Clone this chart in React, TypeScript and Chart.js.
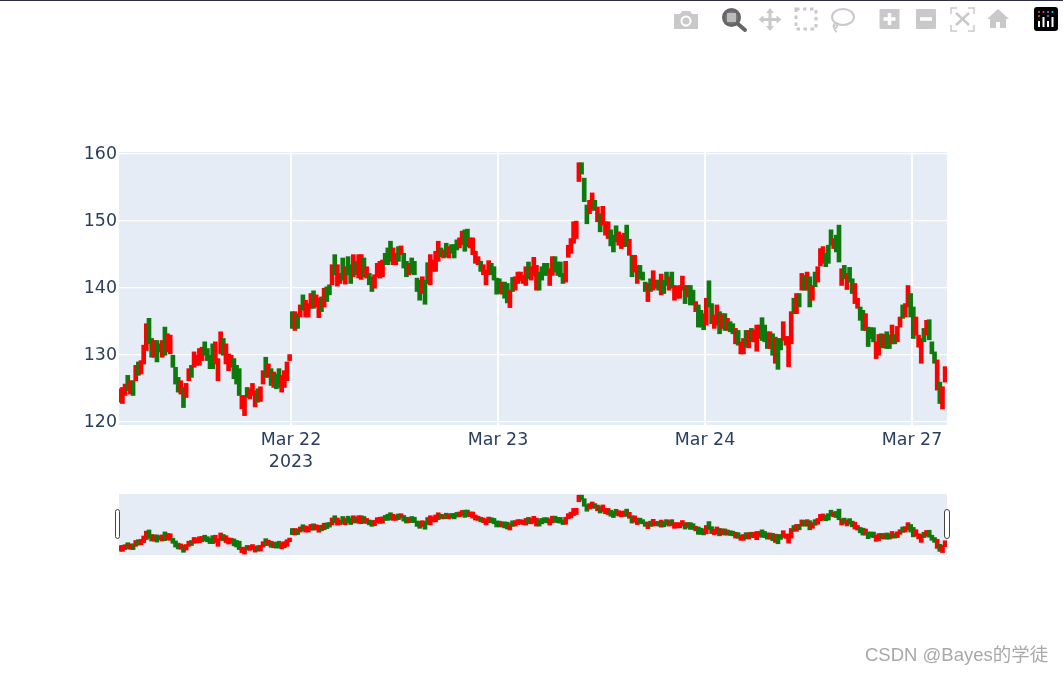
import { useEffect, useRef } from 'react';
import Chart from 'chart.js/auto';

// 5-minute candles per trading session: high, low, and 1 when the candle closed up
const mar21High = [
  124.9, 125.1, 125.6, 126.9, 126.1, 126.1, 128.4, 128.9, 129.1, 131.4,
  134.6, 135.4, 132.4, 132.1, 132.1, 131.6, 132.1, 134.1, 133.1, 132.9,
  129.9, 128.1, 126.6, 126.1, 125.1, 125.7, 127.9, 128.4, 130.4, 129.9,
  130.9, 131.1, 131.9, 130.9, 129.9, 131.6, 131.9, 129.4, 133.4, 132.4,
  131.6, 130.1, 129.9, 129.4, 128.4, 127.9, 123.9, 123.9, 125.1, 124.9,
  125.7, 124.6, 124.9, 125.2, 127.6, 129.6, 128.6, 127.9, 127.4, 127.1,
  127.9, 126.9, 127.6, 128.9, 130.0,
];
const mar21Low = [
  122.9, 122.7, 123.9, 124.6, 124.1, 123.9, 126.1, 126.9, 127.1, 128.6,
  130.6, 131.6, 129.6, 129.6, 128.9, 130.4, 129.6, 129.9, 130.4, 130.1,
  128.1, 125.6, 124.4, 124.1, 122.1, 123.6, 126.1, 126.6, 128.1, 128.4,
  128.4, 129.1, 129.9, 129.1, 127.9, 127.9, 128.6, 126.1, 130.1, 129.9,
  128.6, 127.6, 128.1, 126.4, 125.6, 123.9, 121.9, 120.9, 123.6, 123.4,
  123.9, 122.2, 122.9, 123.0, 125.6, 126.6, 126.6, 125.4, 125.1, 124.9,
  125.1, 124.4, 125.1, 126.1, 129.1,
];
const mar21Up = [
  0, 1, 1, 0, 1, 0, 1, 0, 1, 1,
  1, 0, 0, 1, 0, 0, 1, 0, 1, 1,
  0, 0, 0, 1, 0, 1, 1, 0, 1, 1,
  1, 1, 0, 0, 0, 0, 1, 1, 1, 0,
  1, 1, 1, 0, 0, 0, 1, 1, 0, 1,
  1, 1, 0, 1, 1, 0, 1, 0, 1, 0,
  0, 1, 1, 1, 1,
];
const mar22High = [
  136.4, 136.4, 136.1, 137.4, 138.9, 138.1, 137.6, 139.1, 139.5, 138.9,
  138.4, 138.6, 139.9, 140.1, 140.4, 143.4, 144.9, 143.4, 142.1, 144.4,
  143.1, 144.6, 143.4, 144.9, 143.9, 144.9, 144.9, 144.4, 143.1, 142.1,
  141.6, 141.9, 143.6, 143.9, 144.1, 145.1, 145.9, 146.9, 145.9, 145.1,
  146.1, 146.2, 145.1, 143.9, 143.6, 144.4, 143.9, 141.4, 141.1, 141.6,
  141.1, 143.7, 144.9, 144.1, 145.4, 146.9, 145.9, 145.6, 146.6, 146.1,
  146.4, 146.4, 147.1, 147.4, 148.4, 148.6, 148.7, 147.4, 147.4, 145.4,
  144.6, 143.9, 143.4, 142.6, 144.0, 143.6, 143.1, 141.4,
];
const mar22Low = [
  133.9, 133.6, 133.9, 135.6, 136.6, 135.6, 135.6, 136.9, 136.9, 137.1,
  135.5, 136.4, 137.1, 137.9, 138.9, 140.4, 141.9, 140.2, 140.6, 141.1,
  140.5, 141.9, 140.6, 141.6, 141.9, 141.4, 141.2, 141.6, 141.4, 140.4,
  139.4, 139.9, 141.6, 141.4, 141.6, 143.4, 143.4, 143.9, 143.4, 143.4,
  143.9, 144.9, 142.9, 141.6, 141.9, 142.1, 141.9, 139.4, 138.1, 139.1,
  137.5, 140.6, 140.4, 142.4, 142.4, 143.9, 144.6, 144.4, 144.6, 144.4,
  145.1, 144.4, 145.6, 145.9, 146.4, 145.4, 146.1, 145.9, 144.9, 143.6,
  143.4, 142.4, 141.9, 140.4, 141.9, 141.9, 141.1, 139.0,
];
const mar22Up = [
  0, 1, 0, 1, 0, 1, 1, 1, 0, 1,
  1, 0, 1, 0, 0, 1, 0, 1, 1, 0,
  1, 0, 0, 1, 0, 1, 1, 0, 1, 0,
  0, 1, 1, 1, 1, 0, 0, 0, 1, 1,
  0, 1, 0, 0, 1, 0, 0, 0, 0, 1,
  0, 0, 1, 1, 1, 1, 0, 1, 0, 1,
  0, 0, 0, 1, 1, 0, 0, 1, 1, 1,
  1, 0, 1, 1, 1, 0, 0, 0,
];
const mar23High = [
  141.3, 140.8, 140.8, 140.6, 139.6, 141.5, 141.6, 142.3, 142.3, 141.8,
  143.1, 143.8, 143.1, 144.5, 143.3, 142.3, 143.1, 143.6, 143.6, 142.8,
  144.6, 144.6, 143.8, 143.8, 142.1, 143.9, 146.3, 147.3, 149.8, 149.9,
  158.6, 158.6, 156.3, 152.3, 153.0, 154.1, 153.0, 152.0, 151.0, 152.1,
  149.8, 149.8, 148.6, 147.8, 149.2, 148.3, 147.8, 148.1, 149.3, 147.2,
  144.8, 144.8, 143.3, 143.3, 142.3, 140.8, 140.6, 141.3, 142.5, 141.1,
  141.1, 142.0, 141.1, 142.3, 141.6, 142.3, 140.3, 140.2, 140.3, 141.7,
  140.3, 140.3, 140.3, 139.6, 137.9, 137.4, 136.6, 136.1,
];
const mar23Low = [
  139.1, 139.0, 138.4, 137.7, 137.0, 139.4, 139.6, 140.6, 141.0, 140.6,
  140.3, 141.3, 141.1, 141.8, 139.6, 139.6, 141.1, 141.8, 141.8, 140.3,
  141.8, 142.3, 141.8, 141.6, 140.6, 140.8, 144.5, 145.1, 146.6, 147.3,
  155.8, 156.9, 152.8, 149.5, 151.0, 151.5, 151.5, 149.8, 148.3, 149.3,
  147.8, 147.3, 146.2, 145.3, 146.8, 146.3, 145.8, 146.1, 146.1, 144.8,
  141.6, 142.3, 140.6, 141.3, 141.1, 139.4, 137.9, 139.4, 139.6, 139.9,
  139.6, 138.9, 139.1, 140.3, 139.6, 139.9, 138.1, 138.4, 138.4, 139.6,
  137.6, 138.6, 137.4, 137.4, 136.4, 134.1, 134.1, 133.7,
];
const mar23Up = [
  0, 1, 0, 0, 1, 0, 1, 1, 1, 1,
  1, 0, 1, 1, 1, 0, 0, 0, 0, 1,
  1, 0, 0, 0, 0, 1, 1, 1, 1, 1,
  1, 0, 0, 0, 1, 1, 0, 1, 0, 1,
  1, 1, 0, 0, 0, 1, 1, 1, 0, 1,
  0, 1, 1, 0, 0, 0, 1, 0, 1, 1,
  0, 1, 0, 0, 1, 0, 1, 1, 1, 1,
  0, 1, 0, 0, 1, 0, 0, 0,
];
const mar24High = [
  138.4, 141.0, 137.6, 135.9, 137.4, 136.4, 136.1, 136.1, 135.4, 134.9,
  134.6, 133.9, 133.6, 131.9, 132.4, 133.6, 133.6, 133.9, 133.7, 134.4,
  134.4, 135.5, 134.4, 133.4, 133.4, 133.1, 132.6, 132.4, 132.4, 134.9,
  132.7, 132.7, 136.4, 138.4, 139.1, 139.1, 142.1, 141.8, 142.3, 141.6,
  140.3, 142.3, 143.1, 145.8, 146.1, 145.1, 146.3, 148.6, 147.3, 147.8,
  149.3, 142.8, 143.3, 142.1, 143.0, 141.3, 140.6, 138.4, 137.1, 136.6,
  136.1, 134.1, 134.0, 134.0, 131.9, 133.0, 133.1, 133.0, 133.4, 132.9,
  134.4, 133.0, 134.2, 135.6, 137.4, 137.6, 140.3, 139.1,
];
const mar24Low = [
  134.4, 137.1, 134.6, 133.9, 134.4, 133.1, 133.9, 133.6, 133.6, 133.4,
  133.1, 131.6, 131.4, 130.1, 130.1, 131.1, 131.0, 131.9, 131.9, 130.5,
  132.4, 132.1, 131.9, 130.9, 130.9, 129.9, 128.7, 127.8, 130.7, 132.1,
  131.4, 128.2, 131.6, 136.1, 136.1, 137.1, 139.6, 139.6, 139.6, 137.1,
  138.1, 140.1, 140.8, 143.2, 143.6, 143.1, 143.6, 146.3, 145.8, 145.3,
  143.8, 140.3, 141.3, 139.7, 140.8, 139.1, 137.6, 136.9, 135.1, 133.6,
  133.6, 131.2, 132.4, 131.9, 129.4, 129.9, 131.0, 131.0, 130.9, 130.9,
  131.6, 131.6, 131.9, 134.1, 135.4, 135.6, 137.1, 135.6,
];
const mar24Up = [
  1, 0, 0, 1, 1, 0, 1, 0, 1, 0,
  0, 1, 0, 1, 1, 0, 1, 0, 1, 1,
  1, 0, 0, 0, 1, 0, 1, 0, 0, 1,
  1, 1, 1, 0, 1, 0, 1, 0, 1, 0,
  1, 0, 1, 1, 1, 0, 0, 0, 1, 0,
  0, 1, 0, 1, 0, 0, 1, 1, 0, 0,
  1, 0, 0, 0, 1, 1, 0, 1, 0, 0,
  1, 0, 1, 1, 0, 1, 1, 0,
];
const mar27High = [137.1, 135.6, 132.9, 132.4, 133.9, 135.1, 135.2, 131.9, 130.4, 129.2, 125.9, 125.2, 128.2];
const mar27Low = [132.4, 132.9, 131.1, 128.7, 131.9, 132.9, 132.2, 130.1, 128.7, 124.7, 122.7, 121.9, 125.9];
const mar27Up = [0, 1, 1, 1, 0, 1, 0, 0, 0, 1, 0, 1, 1];

const sessionLabels = ['Mar 22', 'Mar 23', 'Mar 24', 'Mar 27'];
const yearLabel = '2023';
const yTicks = [120, 130, 140, 150, 160];

const CANDLES_PER_SESSION = 78;
const Y_MIN = 119.5;
const Y_MAX = 160.2;
const X_MIN = -64.8;
const X_MAX = 3 * CANDLES_PER_SESSION + 13.2;
// the rangeslider strokes candles at the same pixel width, so they look taller there
const SLIDER_CAP = 0.8;
const PLOT_BG = '#e5ecf6';
const TICK_COLOR = '#2a3f5f';
const UP_COLOR = '#ff0000';
const DOWN_COLOR = '#0e7a0d';
const TICK_FONT = { family: '"DejaVu Sans"', size: 17.4, lineHeight: 1.28 };

const sessions = [
  { start: -mar21High.length, highs: mar21High, lows: mar21Low, ups: mar21Up },
  { start: 0, highs: mar22High, lows: mar22Low, ups: mar22Up },
  { start: CANDLES_PER_SESSION, highs: mar23High, lows: mar23Low, ups: mar23Up },
  { start: 2 * CANDLES_PER_SESSION, highs: mar24High, lows: mar24Low, ups: mar24Up },
  { start: 3 * CANDLES_PER_SESSION, highs: mar27High, lows: mar27Low, ups: mar27Up },
];

const candles = sessions.flatMap((s) =>
  s.highs.map((high, i) => ({ x: s.start + i + 0.5, y: [s.lows[i], high] })),
);
const sliderCandles = candles.map((c) => ({ x: c.x, y: [c.y[0] - SLIDER_CAP, c.y[1] + SLIDER_CAP] }));
const candleColors = sessions.flatMap((s) => s.ups.map((up) => (up ? UP_COLOR : DOWN_COLOR)));

const plotBackground = {
  id: 'plotBackground',
  beforeDraw(chart: any) {
    const { ctx, chartArea } = chart;
    ctx.save();
    ctx.fillStyle = PLOT_BG;
    ctx.fillRect(chartArea.left, chartArea.top, chartArea.width, chartArea.height);
    ctx.restore();
  },
};

export default function App() {
  const mainRef = useRef<HTMLCanvasElement>(null);
  const sliderRef = useRef<HTMLCanvasElement>(null);

  useEffect(() => {
    if (!mainRef.current || !sliderRef.current) return;

    const main = new Chart(mainRef.current, {
      type: 'bar',
      data: {
        datasets: [
          { data: candles, backgroundColor: candleColors, borderWidth: 0, barThickness: 4 } as any,
        ],
      },
      plugins: [plotBackground],
      options: {
        animation: false,
        responsive: false,
        events: [],
        layout: { padding: { left: 0, top: 152, right: 116, bottom: 0 } },
        plugins: { legend: { display: false }, tooltip: { enabled: false } },
        scales: {
          x: {
            type: 'linear',
            offset: false,
            min: X_MIN,
            max: X_MAX,
            border: { display: false },
            grid: { color: '#ffffff', lineWidth: 2, drawTicks: false, offset: false },
            afterBuildTicks: (scale: any) => {
              scale.ticks = sessionLabels.map((_, i) => ({ value: i * CANDLES_PER_SESSION }));
            },
            afterFit: (scale: any) => {
              scale.height = 249;
            },
            ticks: {
              autoSkip: false,
              maxRotation: 0,
              padding: 4,
              color: TICK_COLOR,
              font: TICK_FONT,
              callback: (value: any) => {
                const i = Math.round(value / CANDLES_PER_SESSION);
                return i === 0 ? [sessionLabels[i], yearLabel] : sessionLabels[i];
              },
            },
          },
          y: {
            min: Y_MIN,
            max: Y_MAX,
            border: { display: false },
            grid: { color: '#ffffff', lineWidth: 1.3, drawTicks: false },
            afterBuildTicks: (scale: any) => {
              scale.ticks = yTicks.map((value) => ({ value }));
            },
            afterFit: (scale: any) => {
              scale.width = 119;
            },
            ticks: {
              padding: 2,
              labelOffset: 1,
              color: TICK_COLOR,
              font: TICK_FONT,
            },
          },
        },
      },
    });

    const slider = new Chart(sliderRef.current, {
      type: 'bar',
      data: {
        datasets: [
          { data: sliderCandles, backgroundColor: candleColors, borderWidth: 0, barThickness: 4 } as any,
        ],
      },
      plugins: [plotBackground],
      options: {
        animation: false,
        responsive: false,
        events: [],
        plugins: { legend: { display: false }, tooltip: { enabled: false } },
        scales: {
          x: { type: 'linear', offset: false, display: false, min: X_MIN, max: X_MAX },
          y: { display: false, min: Y_MIN, max: Y_MAX },
        },
      },
    });

    return () => {
      main.destroy();
      slider.destroy();
    };
  }, []);

  const grabber = (left: number) => (
    <div
      style={{
        position: 'absolute',
        left,
        top: 509,
        width: 3.6,
        height: 27.6,
        background: '#fff',
        border: '1.7px solid #444',
        borderRadius: 3,
      }}
    />
  );

  return (
    <div style={{ position: 'fixed', left: 0, top: 0, width: 1063, height: 674, background: '#fff', overflow: 'hidden' }}>
      <div style={{ position: 'absolute', left: 0, top: 0, width: 1063, height: 1, background: '#2b2d42' }} />
      <canvas ref={mainRef} width={1063} height={674} style={{ position: 'absolute', left: 0, top: 0 }} />
      <canvas ref={sliderRef} width={828} height={61} style={{ position: 'absolute', left: 119, top: 494 }} />
      {grabber(114.5)}
      {grabber(944)}
      <ModeBar />
      <div
        style={{
          position: 'absolute',
          left: 865,
          top: 640,
          color: '#a8a8a8',
          fontFamily: '"Liberation Sans", "Noto Sans CJK SC", sans-serif',
          fontSize: 18.5,
          whiteSpace: 'nowrap',
        }}
      >
        CSDN @Bayes的学徒
      </div>
    </div>
  );
}

function ModeBar() {
  const c = '#c9c9c9';
  return (
    <svg width={1063} height={40} style={{ position: 'absolute', left: 0, top: 0 }}>
      {/* camera */}
      <path d="M674 14h6l2-3h8l2 3h6v15h-24z" fill={c} />
      <circle cx={686} cy={21} r={5.5} fill="#fff" />
      <circle cx={686} cy={21} r={3.5} fill={c} />
      {/* zoom, active */}
      <circle cx={731.5} cy={17.5} r={8} fill="#777" stroke="#666" strokeWidth={3} />
      <rect x={727} y={13} width={9} height={9} fill="#bbb" />
      <path d="M738 24l7 6" stroke="#666" strokeWidth={4} strokeLinecap="round" />
      {/* pan */}
      <path
        d="M770 8l4 5h-2.5v5h5v-2.5l5 4-5 4v-2.5h-5v5h2.5l-4 5-4-5h2.5v-5h-5v2.5l-5-4 5-4v2.5h5v-5h-2.5z"
        fill={c}
      />
      {/* box select */}
      <rect x={796} y={9} width={20} height={20} fill="none" stroke={c} strokeWidth={3} strokeDasharray="3.5 3.5" />
      {/* lasso */}
      <ellipse cx={843} cy={17} rx={11} ry={8} fill="none" stroke={c} strokeWidth={2} />
      <path d="M835 23c-4 3 0 7 2 4c1-2-2-3-3 0c0 2 1 4 3 5" fill="none" stroke={c} strokeWidth={1.5} />
      {/* zoom in */}
      <rect x={879.5} y={9} width={20} height={20} rx={1} fill={c} />
      <path d="M889.5 13v12M883.5 19h12" stroke="#fff" strokeWidth={3.5} />
      {/* zoom out */}
      <rect x={916} y={9} width={20} height={20} rx={1} fill={c} />
      <path d="M920 19h12" stroke="#fff" strokeWidth={3.5} />
      {/* autoscale */}
      <path d="M951 14v-6h6M968 8h6v6M974 25v6h-6M957 31h-6v-6" fill="none" stroke={c} strokeWidth={1.5} />
      <path d="M956 13l13 12M969 13l-13 12" stroke={c} strokeWidth={2.5} />
      {/* home */}
      <path d="M998 9l11 10h-3v9h-6v-6h-4v6h-6v-9h-3z" fill={c} />
      {/* plotly logo */}
      <rect x={1034} y={7} width={24} height={24} rx={3} fill="#000" />
      <path d="M1039 21v6M1043.5 17v10M1048 21v6M1052.5 17v10" stroke="#fff" strokeWidth={2} />
      <circle cx={1039} cy={12} r={1} fill="#ef553b" />
      <circle cx={1043.5} cy={12} r={1} fill="#ef553b" />
      <circle cx={1048} cy={12} r={1} fill="#ab63fa" />
      <circle cx={1052.5} cy={12} r={1} fill="#19d3f3" />
      <circle cx={1039} cy={16} r={1} fill="#ef553b" />
      <circle cx={1048} cy={16} r={1} fill="#ab63fa" />
    </svg>
  );
}
